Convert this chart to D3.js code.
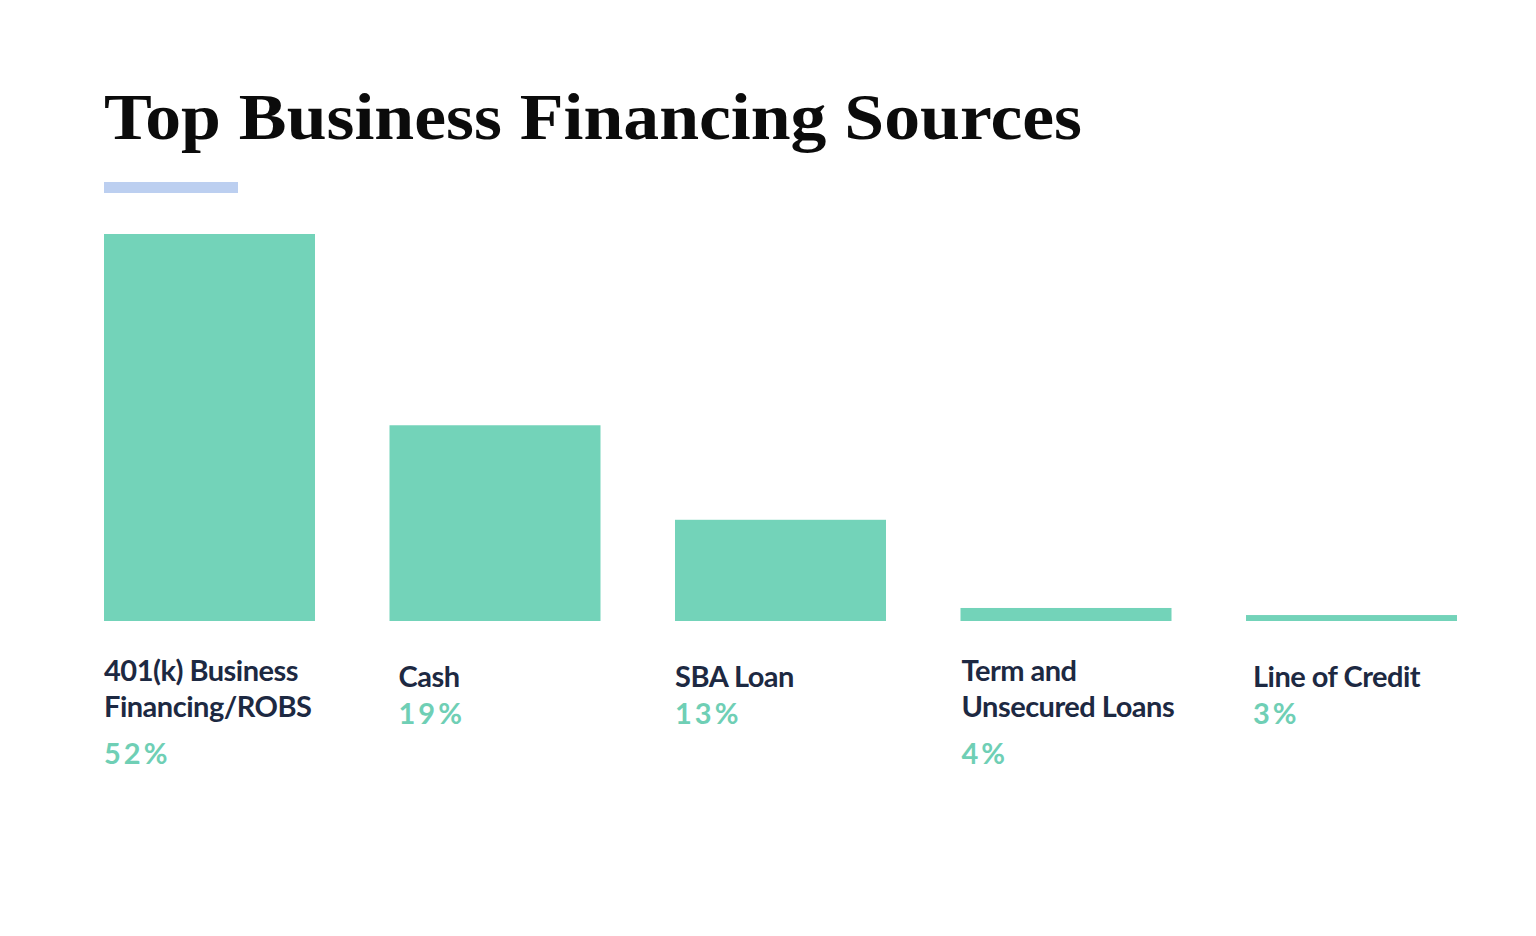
<!DOCTYPE html>
<html><head><meta charset="utf-8">
<script src="https://cdn.jsdelivr.net/npm/d3@7"></script>
<style>body{margin:0;background:#fff}</style></head>
<body><svg id="c" width="1536" height="936"></svg>
<script>
const categories = [["401(k) Business","Financing/ROBS"],["Cash"],["SBA Loan"],["Term and","Unsecured Loans"],["Line of Credit"]];
const valueLabels = ["52%","19%","13%","4%","3%"];
// bar lengths as drawn in the picture (same units as the top bar = 52)
const barLengths = [52, 26.3, 13.6, 1.75, 0.8];
const labelOffsets = [0, 9, 0, 1, 7];

const svg = d3.select("#c");
svg.append("text").attr("x",104).attr("y",139)
  .attr("font-family","Liberation Serif, serif").attr("font-weight","bold")
  .attr("font-size",66).attr("fill","#0b0b0b")
  .attr("textLength",978).attr("lengthAdjust","spacingAndGlyphs")
  .text("Top Business Financing Sources");
svg.append("rect").attr("x",104).attr("y",182).attr("width",134).attr("height",11).attr("fill","#bccff0");

const x = d3.scaleBand().domain(d3.range(5)).range([104,1457]).paddingInner(74.5/285.5).paddingOuter(0);
const y = d3.scaleLinear().domain([0,52]).range([621,234]);

svg.selectAll("rect.bar").data(barLengths).join("rect").attr("class","bar")
  .attr("x",(d,i)=>x(i)).attr("width",x.bandwidth())
  .attr("y",d=>y(d)).attr("height",d=>621-y(d)).attr("fill","#73d3b9");

categories.forEach((lines,i)=>{
  const lx = x(i)+labelOffsets[i];
  const two = lines.length===2;
  const base = two ? 681 : 687;
  lines.forEach((t,j)=>{
    svg.append("text").attr("x",lx).attr("y",base+j*36)
      .attr("font-family","Lato, sans-serif").attr("font-weight","bold")
      .attr("font-size",29).attr("fill","#1d2942").attr("letter-spacing",-0.5).text(t);
  });
  svg.append("text").attr("x",lx).attr("y",two?764:724)
    .attr("font-family","Lato, sans-serif").attr("font-weight","bold")
    .attr("font-size",29).attr("fill","#6fcfb5").attr("letter-spacing",3).text(valueLabels[i]);
});
</script></body></html>
